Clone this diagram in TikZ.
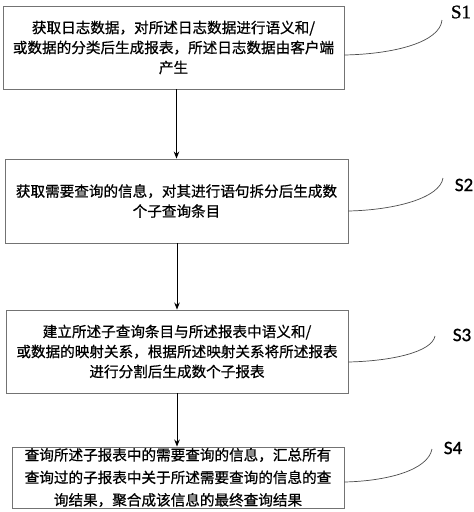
\documentclass[tikz,border=0pt]{standalone}
\usepackage{fontspec}
\newfontfamily\cjk[FakeBold=0.7]{Noto Sans CJK SC}
\newfontfamily\lblserif[FakeBold=1]{Liberation Serif}
\newfontfamily\lblsans[FakeBold=1]{Carlito}
\usetikzlibrary{arrows.meta}
\begin{document}
\begin{tikzpicture}[x=1pt,y=-1pt,
  stepbox/.style={draw=black!55, line width=0.9pt, fill=white, align=center, inner sep=0pt,
    font=\cjk\fontsize{14.6}{20}\selectfont},
  arr/.style={draw=black, line width=1pt, -{Stealth[length=7pt,width=5.5pt]}},
  lead/.style={draw=black!70, line width=0.7pt},
  steplbl/.style={inner sep=0pt, font=\lblsans\fontsize{19}{19}\selectfont}]
\useasboundingbox (0,0) rectangle (474,512);
\fill[white] (0,0) rectangle (474,512);

\node[stepbox, minimum width=341pt, minimum height=83pt] (b1) at (173.5,47.5)
  {获取日志数据，对所述日志数据进行语义和/\\或数据的分类后生成报表，所述日志数据由客户端\\产生};
\node[stepbox, minimum width=343pt, minimum height=84pt] (b2) at (176.5,201)
  {获取需要查询的信息，对其进行语句拆分后生成数\\个子查询条目};
\node[stepbox, minimum width=342pt, minimum height=83pt] (b3) at (177,351.5)
  {建立所述子查询条目与所述报表中语义和/\\或数据的映射关系，根据所述映射关系将所述报表\\进行分割后生成数个子报表};
\node[stepbox, minimum width=332pt, minimum height=61pt,
  font=\cjk\fontsize{14.6}{22.5}\selectfont] (b4) at (178,477.5)
  {查询所述子报表中的需要查询的信息，汇总所有\\查询过的子报表中关于所述需要查询的信息的查\\询结果，聚合成该信息的最终查询结果};

\draw[arr] (b2.north |- b1.south) -- (b2.north);
\draw[arr] (b3.north |- b2.south) -- (b3.north);
\draw[arr] (b3.south) -- (b3.south |- b4.north);

\node[steplbl, font=\lblserif\fontsize{19}{19}\selectfont] (s1) at (461,12) {S1};
\node[steplbl] (s2) at (464,185) {S2};
\node[steplbl] (s3) at (462,335) {S3};
\node[steplbl] (s4) at (453,448) {S4};

\coordinate (e1) at (442,20);
\coordinate (e2) at (443,178);
\coordinate (e3) at (435,336);
\coordinate (e4) at (432,449);

\draw[lead] (b1.east |- 0,55) .. controls (395,54) and (440,42) .. (e1);
\draw[lead] (b2.east |- 0,211) .. controls (395,210) and (440,198) .. (e2);
\draw[lead] (b3.east |- 0,362) .. controls (392,361) and (432,352) .. (e3);
\draw[lead] (b4.east |- 0,482) .. controls (388,481) and (428,470) .. (e4);
\end{tikzpicture}
\end{document}
